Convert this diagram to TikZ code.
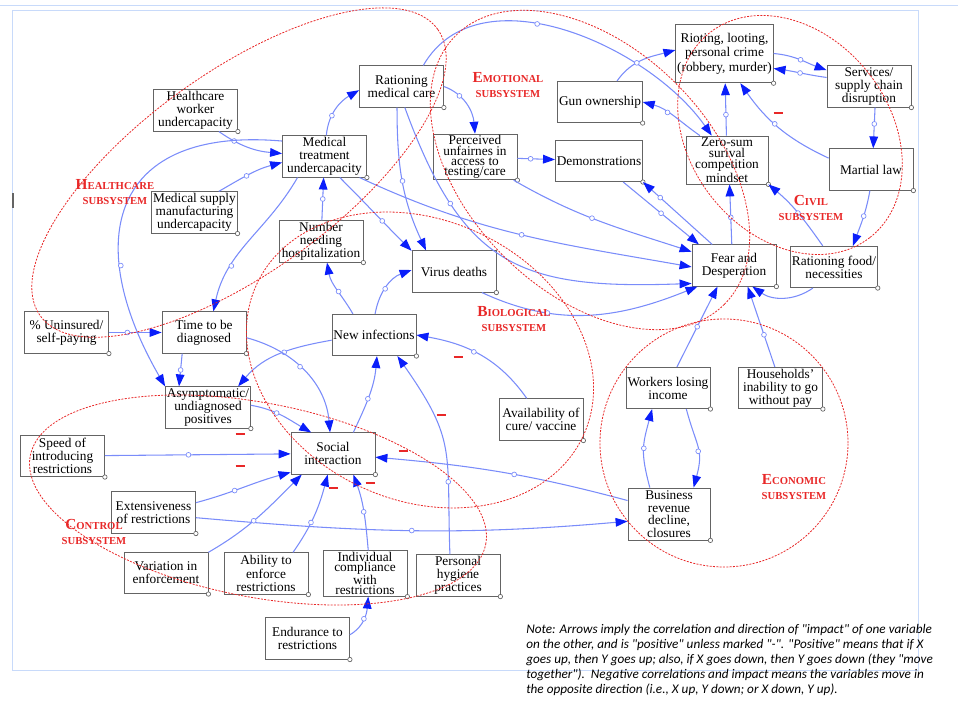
\documentclass[tikz,border=0pt]{standalone}
\usepackage{fontspec}
\setmainfont{Liberation Serif}
\newfontfamily\notefont{Carlito}
\usetikzlibrary{arrows.meta}

\definecolor{linkblue}{RGB}{122,140,250}
\definecolor{tipblue}{RGB}{10,30,250}
\definecolor{boxgray}{RGB}{100,100,100}
\definecolor{subred}{RGB}{232,40,40}
\definecolor{framebl}{RGB}{200,218,250}

% red subsystem caption, fake small caps
\newcommand{\subsys}[2]{{\fontsize{11.5}{11.25}\selectfont #1}#2\\SUBSYSTEM}

\begin{document}
\begin{tikzpicture}[x=0.75pt, y=0.75pt,
  box/.style={draw=boxgray, line width=0.6pt, minimum width=63pt, minimum height=31pt,
    align=center, inner sep=1pt, font=\fontsize{10}{9.8}\selectfont},
  link/.style={draw=linkblue, line width=0.8pt, -{Triangle[length=9pt,width=6.5pt,color=tipblue]}},
  linkdot/.style={circle, draw=linkblue, fill=white, line width=0.5pt, inner sep=0pt, minimum size=3.6pt},
  subsys/.style={draw=subred, line width=0.6pt, dash pattern=on 1.5pt off 1pt},
  sublabel/.style={text=subred, align=center, font=\bfseries\fontsize{8}{11.25}\selectfont},
  neg/.style={draw=subred, line width=1.6pt},
  frameline/.style={draw=framebl, line width=0.6pt}]
\useasboundingbox (0,0) rectangle (958,712);

% page frame
\draw[frameline] (12,42) rectangle (918,702);
\draw[frameline] (0,707) -- (958,707);
\draw[boxgray, line width=1.4pt] (13,504) -- (13,519);

% variables
\node[box] (hcw) at (195.5,601.5) {Healthcare\\worker\\undercapacity};
\node[box] (mtu) at (324.5,555.5) {Medical\\treatment\\undercapacity};
\node[box] (rmc) at (401.5,625.5) {Rationing\\medical care};
\node[box] (msu) at (194.5,499.5) {Medical supply\\manufacturing\\undercapacity};
\node[box] (nnh) at (321,470.5) {Number\\needing\\hospitalization};
\node[box] (vd) at (454,440.5) {Virus deaths};
\node[box, font=\fontsize{10}{7.7}\selectfont] (pua) at (475,555) {Perceived\\unfairnes in\\access to\\testing/care};
\node[box] (dem) at (599,551) {Demonstrations};
\node[box] (gun) at (600,610) {Gun ownership};
\node[box, minimum width=71pt, minimum height=44pt, font=\fontsize{10}{11}\selectfont] (rlc) at (724.5,658.5) {Rioting, looting,\\personal crime\\(robbery, murder)};
\node[box] (ssc) at (869,625.5) {Services/\\supply chain\\disruption};
\node[box, minimum width=61.5pt, minimum height=36pt, font=\fontsize{10}{8.5}\selectfont] (zsm) at (727,552) {Zero-sum\\surival\\competition\\mindset};
\node[box] (ml) at (871,542.5) {Martial law};
\node[box] (fd) at (734,446.5) {Fear and\\Desperation};
\node[box] (rfn) at (834,445) {Rationing food/\\necessities};
\node[box] (unins) at (66.5,379.5) {\% Uninsured/\\self-paying};
\node[box] (ttd) at (204,379.5) {Time to be\\diagnosed};
\node[box] (ni) at (374,377) {New infections};
\node[box] (asym) at (208,304.5) {Asymptomatic/\\undiagnosed\\positives};
\node[box] (avc) at (541,292.5) {Availability of\\cure/ vaccine};
\node[box] (wli) at (668,324) {Workers losing\\income};
\node[box] (hh) at (780.5,324) {Households'\\inability to go\\without pay};
\node[box] (spd) at (62.5,256) {Speed of\\introducing\\restrictions};
\node[box] (si) at (333,258.5) {Social\\interaction};
\node[box] (ext) at (153.5,199.5) {Extensiveness\\of restrictions};
\node[box, minimum width=61.5pt, minimum height=39pt, font=\fontsize{10}{9.5}\selectfont] (brd) at (669,198) {Business\\revenue\\decline,\\closures};
\node[box] (var) at (166,139) {Variation in\\enforcement};
\node[box] (abl) at (266,138.5) {Ability to\\enforce\\restrictions};
\node[box, font=\fontsize{10}{7.5}\selectfont] (ind) at (365,138.5) {Individual\\compliance\\with\\restrictions};
\node[box] (phy) at (458,136.5) {Personal\\hygiene\\practices};
\node[box] (endu) at (307.5,73.5) {Endurance to\\restrictions};

\foreach \n in {hcw,mtu,rmc,msu,nnh,vd,pua,dem,gun,rlc,ssc,zsm,ml,fd,rfn,unins,ttd,ni,asym,avc,wli,hh,spd,si,ext,brd,var,abl,ind,phy,endu}
  \draw[boxgray, fill=white, line width=0.5pt] (\n.south east) circle[radius=2.2];

% healthcare links
\draw[link] (hcw.-42) to[out=-35,in=175] node[linkdot,pos=.25]{} (mtu.176);
\draw[link] (msu.41) to[out=30,in=195] node[linkdot,pos=.45]{} (mtu.188);
\draw[link] (mtu.160) to[out=175,in=120,looseness=1.6] node[linkdot,pos=.7]{} (asym.north west);
\draw[link] (mtu.218) to[out=240,in=78] node[linkdot,pos=.7]{} (ttd.66);
\draw[link] (nnh) -- node[linkdot]{} (mtu);
\draw[link] (mtu.85) to[out=85,in=210] node[linkdot,pos=.35]{} (rmc.185);
\draw[link] (mtu.-54) to[out=-45,in=135] node[linkdot,pos=.6]{} (vd.154);
\draw[link] (mtu.-31) to[out=-25,in=170] node[linkdot,pos=.5]{} (fd.182);
\draw[link] (rmc.east) to[out=-20,in=95] node[linkdot,pos=.3]{} (pua.north);
\draw[link] (rmc.-102) to[out=-90,in=115] node[linkdot,pos=.5]{} (vd.143);
\draw[link] (rmc.-81) to[out=-70,in=182,looseness=1.3] node[linkdot,pos=.25]{} (fd.203);
\draw[link] (rmc.44) to[out=60,in=125,looseness=.95] node[linkdot,pos=.42]{} (zsm.122);

% emotional and civil links
\draw[link] (pua) -- node[linkdot,pos=.35]{} (dem);
\draw[link] (pua.-31) to[out=-30,in=162] node[linkdot,pos=.45]{} (fd.162);
\draw[link] (vd.-37) to[out=-25,in=202] node[linkdot,pos=.3]{} (fd.210);
\draw[link] (dem.-41) -- node[linkdot]{} (fd.149);
\draw[link] (fd.136) -- node[linkdot,pos=.75]{} (dem.south east);
\draw[link] (wli.67) -- node[linkdot]{} (fd.232);
\draw[link] (hh.105) -- node[linkdot,pos=.4]{} (fd.-57);
\draw[link] (rfn.225) to[out=215,in=-35] (fd.-49);
\draw[link] (fd.96) -- node[linkdot,pos=.45]{} (zsm.-84);
\draw[link] (rfn.118) to[out=125,in=-40] node[linkdot,pos=.5]{} (zsm.south east);
\draw[link] (ml.-93) to[out=-100,in=70] node[linkdot,pos=.45]{} (rfn.48);
\draw[link] (ssc.-74) -- node[linkdot,pos=.4]{} (ml.84);
\draw[link] (rlc.east) to[out=-5,in=160] node[linkdot,pos=.5]{} (ssc.159);
\draw[link] (ssc.168) to[out=172,in=-8] node[linkdot,pos=.5]{} (rlc.-17);
\draw[link] (ml.165) to[out=155,in=-55] node[linkdot,pos=.55]{} (rlc.-62);
\draw[link] (zsm) -- node[linkdot,pos=.4]{} (rlc);
\draw[link] (zsm.138) to[out=145,in=-15] node[linkdot,pos=.6]{} (gun.east);
\draw[link] (gun.51) to[out=55,in=195] node[linkdot,pos=.4]{} (rlc.176);

% biological and control links
\draw[link] (unins) -- node[linkdot,pos=.35]{} (ttd);
\draw[link] (ttd.224) -- node[linkdot]{} (asym.144);
\draw[link] (ni.187) to[out=190,in=50] node[linkdot,pos=.45]{} (asym.35);
\draw[link] (ttd.-7) to[out=-15,in=95] node[linkdot,pos=.45]{} (si.98);
\draw[link] (asym.3) to[out=-10,in=150] node[linkdot,pos=.4]{} (si.136);
\draw[link] (si.46) to[out=65,in=-95] node[linkdot,pos=.45]{} (ni.-82);
\draw[link] (ni.135) to[out=120,in=-80] node[linkdot,pos=.45]{} (nnh.-74);
\draw[link] (ni.87) to[out=80,in=200] node[linkdot,pos=.45]{} (vd.178);
\draw[link] (avc.124) to[out=125,in=-10] node[linkdot,pos=.55]{} (ni.east);
\draw[link] (phy.111) to[out=92,in=-55,looseness=1.3] node[linkdot,pos=.3]{} (ni.-42);
\draw[link] (spd) -- node[linkdot,pos=.45]{} (si);
\draw[link] (ext.13) to[out=15,in=195] node[linkdot,pos=.4]{} (si.204);
\draw[link] (ext.-7) to[out=-5,in=185] node[linkdot,pos=.5]{} (brd.190);
\draw[link] (brd.162) to[out=165,in=-5] node[linkdot,pos=.45]{} (si.-5);
\draw[link] (var.26) to[out=30,in=225] node[linkdot,pos=.45]{} (si.214);
\draw[link] (abl.38) to[out=55,in=255] node[linkdot,pos=.4]{} (si.256);
\draw[link] (ind.82) to[out=95,in=-70] node[linkdot,pos=.5]{} (si.-46);
\draw[link] (endu.5) to[out=30,in=-95] node[linkdot,pos=.5]{} (ind.-82);
\draw[link] (brd.126) to[out=105,in=255,looseness=1.2] node[linkdot,pos=.5]{} (wli.233);
\draw[link] (wli.-49) to[out=-75,in=75,looseness=1.3] node[linkdot,pos=.55]{} (brd.47);

% negative marks
\foreach \p in {(240,278),(240,246),(333,224),(370,229),(403,261),(441,297),(458,355),(778,599)}
  \draw[neg] \p ++(-4.5,0) -- ++(9,0);

% subsystems
\draw[subsys, rotate around={35.8:(239,539.4)}] (239,539.4) ellipse [x radius=245, y radius=100];
\draw[subsys, rotate around={-25:(420,352)}] (420,352) ellipse [x radius=180, y radius=140];
\draw[subsys, rotate around={-45:(590,542)}] (590,542) ellipse [x radius=190, y radius=122];
\draw[subsys, rotate around={-52:(790,577)}] (790,577) ellipse [x radius=130, y radius=100];
\draw[subsys] (724,269) circle [radius=124];
\draw[subsys, rotate around={-11:(258,212)}] (258,212) ellipse [x radius=232, y radius=97];

\node[sublabel] (lhealth) at (115,520) {\subsys{H}{EALTHCARE}};
\node[sublabel] (lemo) at (508,627) {\subsys{E}{MOTIONAL}};
\node[sublabel] (lbio) at (514,393) {\subsys{B}{IOLOGICAL}};
\node[sublabel] (lcivil) at (811,504) {\subsys{C}{IVIL}};
\node[sublabel] (lecon) at (794,225) {\subsys{E}{CONOMIC}};
\node[sublabel] (lctrl) at (94,180) {\subsys{C}{ONTROL}};

% note
\node[anchor=north west, align=left, inner sep=0pt, font=\notefont\itshape\fontsize{9.9}{11.25}\selectfont] (note) at (526,88)
  {Note: Arrows imply the correlation and direction of "impact" of one variable\\
   on the other, and is "positive" unless marked "-". "Positive" means that if X\\
   goes up, then Y goes up; also, if X goes down, then Y goes down (they "move\\
   together").\ \ Negative correlations and impact means the variables move in\\
   the opposite direction (i.e., X up, Y down; or X down, Y up).};
\end{tikzpicture}
\end{document}
